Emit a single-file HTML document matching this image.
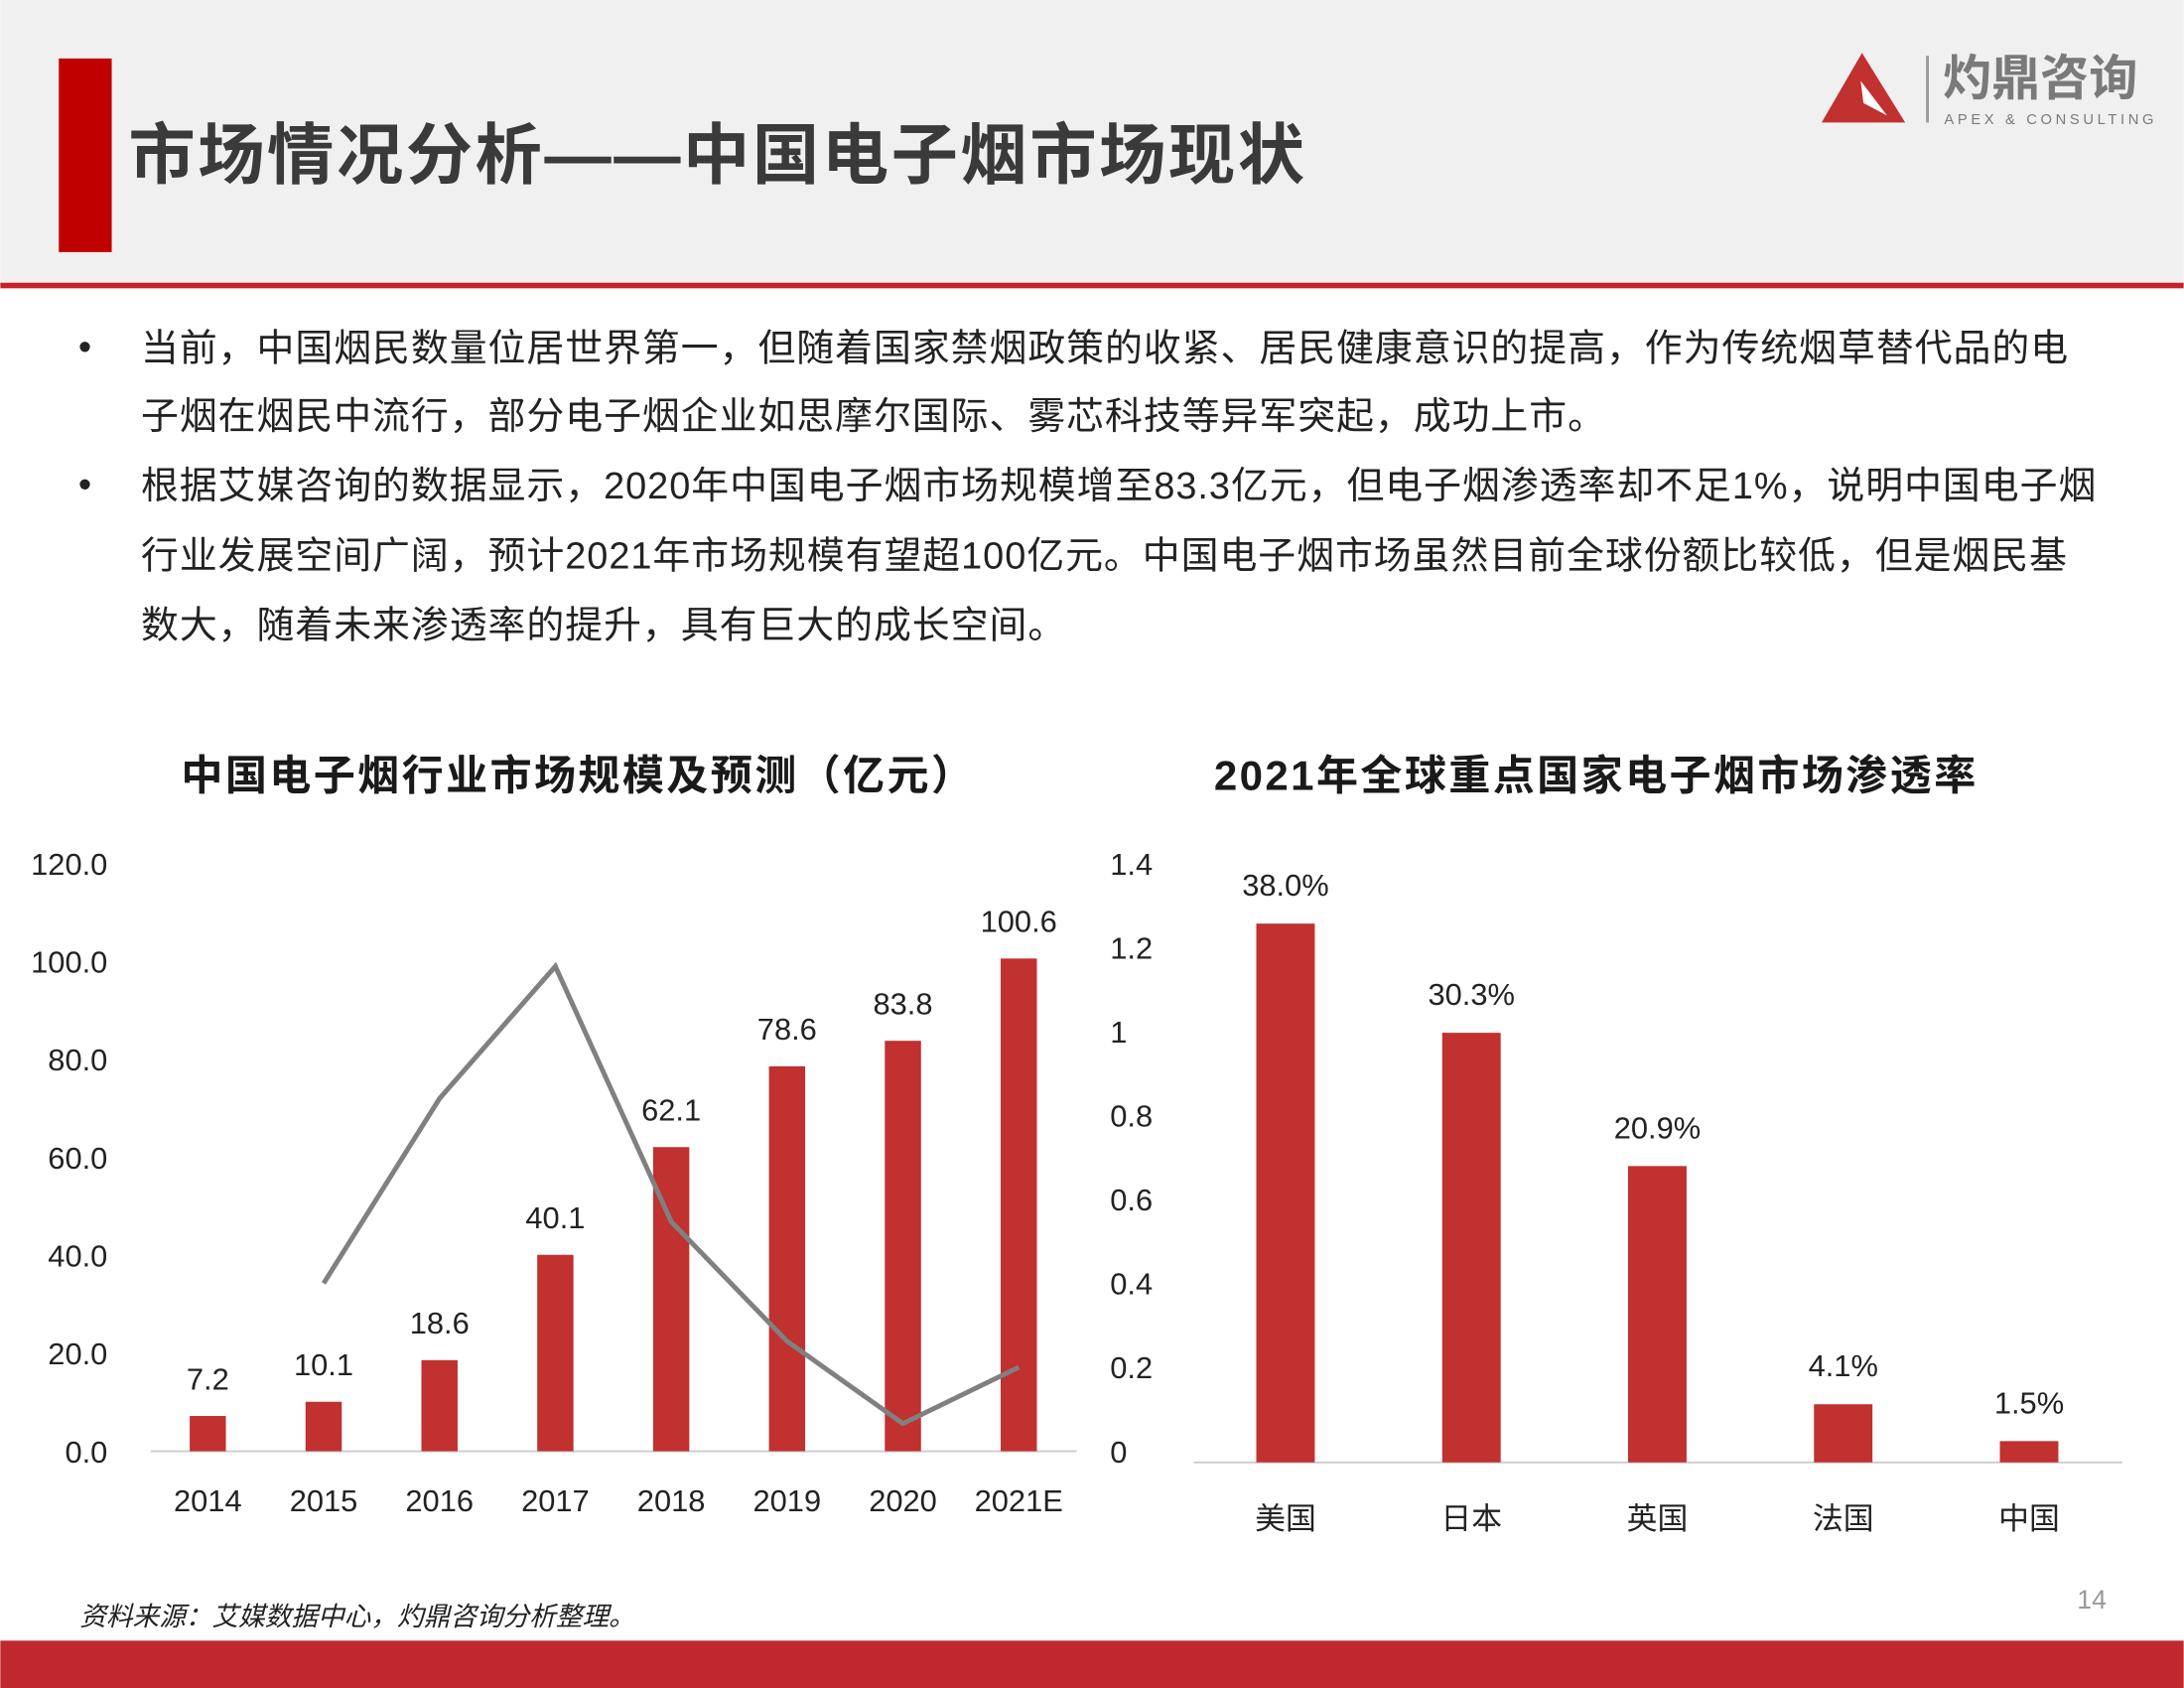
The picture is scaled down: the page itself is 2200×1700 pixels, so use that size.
<!DOCTYPE html>
<html><head><meta charset="utf-8">
<style>
html,body{margin:0;padding:0;background:#fff;}
svg{display:block;}
text{font-family:"Liberation Sans","Noto Sans CJK SC",sans-serif;}
</style></head>
<body>
<svg id="page" width="2200" height="1700" viewBox="0 0 1568 1212" xmlns="http://www.w3.org/2000/svg">
  <rect x="0" y="0" width="1568" height="204" fill="#f0f0f0"/>
  <rect x="0" y="203" width="1568" height="4" fill="#c8202a"/>
  <rect x="42" y="42" width="38" height="139" fill="#c00000"/>
  <text x="92" y="128" font-size="48" font-weight="bold" fill="#3a3a3a" letter-spacing="1.8">市场情况分析——中国电子烟市场现状</text>
  <g>
    <polygon points="1308,88 1337,38 1368,88" fill="#c0312f"/>
    <polygon points="1336,58 1355,83 1338,74" fill="#fff"/>
    <rect x="1383" y="40" width="2" height="48" fill="#999"/>
    <text x="1395" y="68" font-size="35" font-weight="bold" fill="#7a7a7a">灼鼎咨询</text>
    <text x="1396" y="89" font-size="10.5" fill="#7a7a7a" letter-spacing="2.6">APEX &amp; CONSULTING</text>
  </g>
  <g font-size="27" fill="#222" letter-spacing="0.7">
    <text x="56" y="258">•</text>
    <text x="101" y="259">当前，中国烟民数量位居世界第一，但随着国家禁烟政策的收紧、居民健康意识的提高，作为传统烟草替代品的电</text>
    <text x="101" y="308">子烟在烟民中流行，部分电子烟企业如思摩尔国际、雾芯科技等异军突起，成功上市。</text>
    <text x="56" y="357">•</text>
    <text x="101" y="358">根据艾媒咨询的数据显示，2020年中国电子烟市场规模增至83.3亿元，但电子烟渗透率却不足1%，说明中国电子烟</text>
    <text x="101" y="408">行业发展空间广阔，预计2021年市场规模有望超100亿元。中国电子烟市场虽然目前全球份额比较低，但是烟民基</text>
    <text x="101" y="458">数大，随着未来渗透率的提升，具有巨大的成长空间。</text>
  </g>
  <text x="415" y="567" font-size="30" font-weight="bold" fill="#1a1a1a" text-anchor="middle" letter-spacing="1.7">中国电子烟行业市场规模及预测（亿元）</text>
  <text x="1146" y="567" font-size="30" font-weight="bold" fill="#1a1a1a" text-anchor="middle" letter-spacing="1.7">2021年全球重点国家电子烟市场渗透率</text>
  <g id="left-chart"></g>
  <g id="right-chart"></g>
  <text x="57" y="1167" font-size="19" font-style="italic" fill="#222">资料来源：艾媒数据中心，灼鼎咨询分析整理。</text>
  <text x="1502" y="1155" font-size="19" fill="#999" text-anchor="middle">14</text>
  <rect x="0" y="1178" width="1568" height="34" fill="#c0282d"/>
</svg>
<script>
const years = ["2014","2015","2016","2017","2018","2019","2020","2021E"];
const marketSize = [7.2,10.1,18.6,40.1,62.1,78.6,83.8,100.6];
const growthRate = [null,0.40,0.84,1.155,0.547,0.262,0.066,0.2];
const leftTicks = ["0.0","20.0","40.0","60.0","80.0","100.0","120.0"];
const rightTicks = ["0","0.2","0.4","0.6","0.8","1","1.2","1.4"];
const countries = ["美国","日本","英国","法国","中国"];
const penetration = [38.0,30.3,20.9,4.1,1.5];

const NS="http://www.w3.org/2000/svg";
function mk(tag,attrs,parent,txt){const e=document.createElementNS(NS,tag);for(const k in attrs)e.setAttribute(k,attrs[k]);if(txt!==undefined)e.textContent=txt;parent.appendChild(e);return e;}
const RED="#c0312f";

const L=document.getElementById('left-chart');
const baseY=1042, topY=620;
const yL=v=>baseY-(v/120)*(baseY-topY);
const yR=v=>baseY-(v/1.4)*(baseY-topY);
const xC=i=>149+i*83.2;
leftTicks.forEach((t,i)=>{const el=mk('text',{x:77,y:yL(i*20)+8,'font-size':22,fill:'#222','text-anchor':'end'},L,t);

});
rightTicks.forEach((t,i)=>{const el=mk('text',{x:797,y:yR(i*0.2)+8,'font-size':22,fill:'#222'},L,t);

});
const ax=mk('line',{x1:108,x2:773,y1:baseY,y2:baseY,stroke:'#d0d0d0','stroke-width':1.5},L);


marketSize.forEach((v,i)=>{
  const b=mk('rect',{x:xC(i)-13,y:yL(v),width:26,height:baseY-yL(v),fill:RED},L);
  
  
  const lb=mk('text',{x:xC(i),y:yL(v)-19,'font-size':22,fill:'#222','text-anchor':'middle'},L,v.toFixed(1));
  
  
  const xl=mk('text',{x:xC(i),y:1085,'font-size':22,fill:'#222','text-anchor':'middle'},L,years[i]);
  
  
});
const pts=growthRate.map((v,i)=>v===null?null:xC(i)+','+yR(v)).filter(p=>p);
const ln=mk('polyline',{points:pts.join(' '),fill:'none',stroke:'#808080','stroke-width':3.5},L);



const R=document.getElementById('right-chart');
const rb=1050;
const yP=v=>rb-v*10.18;
const xR=i=>923+i*133.5;
const ax2=mk('line',{x1:857,x2:1524,y1:rb,y2:rb,stroke:'#d0d0d0','stroke-width':1.5},R);


penetration.forEach((v,i)=>{
  const b=mk('rect',{x:xR(i)-21,y:yP(v),width:42,height:rb-yP(v),fill:RED},R);
  
  
  const lb=mk('text',{x:xR(i),y:yP(v)-20,'font-size':22,fill:'#222','text-anchor':'middle'},R,v.toFixed(1)+'%');
  
  
  const xl=mk('text',{x:xR(i),y:1098,'font-size':22,fill:'#222','text-anchor':'middle'},R,countries[i]);
  
  
});
</script>
</body></html>
